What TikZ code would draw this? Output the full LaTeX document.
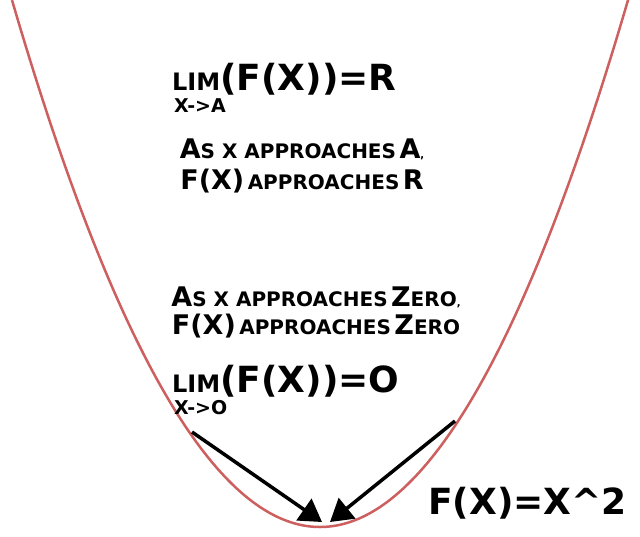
\documentclass[tikz,border=0pt]{standalone}
\usepackage{fontspec}
\setmainfont{DejaVu Sans}
\usetikzlibrary{arrows.meta}
\newcommand{\bigc}[1]{{\fontsize{36}{38}\selectfont #1}}
\newcommand{\smc}[1]{{\fontsize{24}{26}\selectfont #1}}
\newcommand{\subc}[1]{{\fontsize{19}{21}\selectfont #1}}
\newcommand{\tbig}[1]{{\fontsize{27}{29}\selectfont #1}}
\newcommand{\tsm}[1]{{\fontsize{20}{22}\selectfont #1}}
\tikzset{txt/.style={inner sep=0pt,anchor=center,font=\bfseries},
  arr/.style={line width=3.5pt,-{Triangle[length=22pt,width=26pt]}}}
\begin{document}
\begin{tikzpicture}[x=1pt,y=-1pt]
\useasboundingbox[fill=white] (0,0) rectangle (640,536);
\draw[color={rgb,255:red,205;green,95;blue,95},line width=2.5pt]
  plot[domain=12:632,samples=150,smooth] (\x,{527-0.005556*(\x-320)*(\x-320)});
\node[txt,anchor=west] (l1) at (172,79) {\smc{LIM}\bigc{(F(X))=R}};
\node[txt,anchor=west] (s1) at (174,106) {\subc{X->A}};
\node[txt] (t1) at (302,149) {\tbig{A}\tsm{S X APPROACHES} \tbig{A},};
\node[txt] (t2) at (302,181) {\tbig{F(X)} \tsm{APPROACHES} \tbig{R}};
\node[txt] (t3) at (316,297) {\tbig{A}\tsm{S X APPROACHES} \tbig{Z}\tsm{ERO},};
\node[txt] (t4) at (316,326) {\tbig{F(X)} \tsm{APPROACHES} \tbig{Z}\tsm{ERO}};
\node[txt,anchor=west] (l2) at (172,381) {\smc{LIM}\bigc{(F(X))=O}};
\node[txt,anchor=west] (s2) at (174,408) {\subc{X->O}};
\node[txt,anchor=west] (f) at (428,503) {\bigc{F(X)=X\^{}2}};
\coordinate (a1) at (192,432);
\coordinate (a2) at (455,421);
\coordinate (v) at (322,522);
\draw[arr] (a1) -- (v);
\draw[arr] (a2) -- ([xshift=8pt]v);
\end{tikzpicture}
\end{document}
